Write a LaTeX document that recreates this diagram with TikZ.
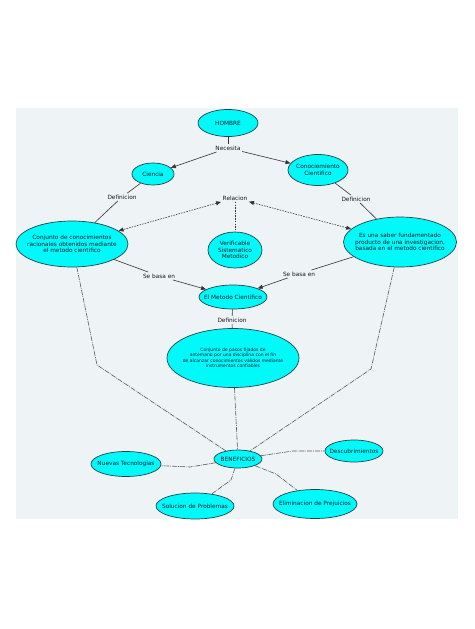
\documentclass[tikz,border=0pt]{standalone}
\usepackage{fontspec}
\setmainfont{DejaVu Sans}
\usetikzlibrary{arrows.meta,shapes.geometric}
\definecolor{cmapfill}{RGB}{0,250,250}
\definecolor{cmapline}{RGB}{30,70,80}
\definecolor{cmaptext}{RGB}{5,30,50}
\definecolor{cmapbg}{RGB}{238,243,245}

\begin{document}
\begin{tikzpicture}[x=1pt,y=-1pt,
  concept/.style={ellipse,draw=cmapline,fill=cmapfill,line width=0.7pt,align=center,inner xsep=-10pt,inner ysep=-6pt,text=cmaptext,font=\fontsize{5.8}{6.6}\selectfont},
  lab/.style={font=\fontsize{5.8}{6.6}\selectfont,inner sep=1.5pt,text=black!90},
  link/.style={draw=black!80,line width=0.6pt},
  ar/.style={link,-{Triangle[length=5pt,width=4pt]}},
  rel/.style={link,dash pattern=on 1.5pt off 1.2pt,{Triangle[length=5pt,width=4pt]}-{Triangle[length=5pt,width=4pt]}},
  ben/.style={draw=black!65,line width=0.6pt,dash pattern=on 5pt off 1pt on 0.8pt off 1pt}]

\useasboundingbox (0,0) rectangle (474,629);
\fill[cmapbg] (16,108) rectangle (458,519);

% concepts
\node[concept,minimum width=60pt,minimum height=27pt] (hombre) at (228,123) {HOMBRE};
\node[concept,minimum width=42pt,minimum height=22pt] (ciencia) at (153,174) {Ciencia};
\node[concept,minimum width=60pt,minimum height=31pt] (conoc) at (318,170) {Conociemiento\\Cientifico};
\node[concept,minimum width=112pt,minimum height=46pt] (conjL) at (72,244)
  {Conjunto de conocimientos\\racionales obtenidos mediante\\el metodo cientifico};
\node[concept,minimum width=54pt,minimum height=36pt] (verif) at (235,250)
  {Verificable\\Sistematico\\Metodico};
\node[concept,minimum width=113pt,minimum height=50pt] (saber) at (400,242)
  {Es una saber fundamentado\\producto de una investigacion,\\basada en el metodo cientifico};
\node[concept,minimum width=68pt,minimum height=24pt] (metodo) at (233,297) {El Metodo Cientifico};
\node[concept,minimum width=132pt,minimum height=59pt,font=\fontsize{4.5}{5.4}\selectfont] (pasos) at (233,358)
  {Conjunto de pasos fijados de\\antemano por una disciplina con el fin\\de alcanzar conocimientos válidos mediante\\instrumentos confiables};
\node[concept,minimum width=48pt,minimum height=18pt] (benef) at (238,459) {BENEFICIOS};
\node[concept,minimum width=70pt,minimum height=25pt] (nuevas) at (126,464) {Nuevas Tecnologias};
\node[concept,minimum width=58pt,minimum height=22pt] (descub) at (354,451) {Descubrimientos};
\node[concept,minimum width=78pt,minimum height=26pt] (solucion) at (195,506) {Solucion de Problemas};
\node[concept,minimum width=84pt,minimum height=29pt] (elimin) at (315,504) {Eliminacion de Prejuicios};

% linking phrases
\node[lab] (necesita) at (228,148) {Necesita};
\node[lab] (defL) at (122,197) {Definicion};
\node[lab] (defR) at (356,199) {Definicion};
\node[lab] (relacion) at (235,198) {Relacion};
\node[lab] (basaL) at (159,276) {Se basa en};
\node[lab] (basaR) at (299,274) {Se basa en};
\node[lab] (defM) at (232,320) {Definicion};

\coordinate (bendL) at (97,365);
\coordinate (bendR) at (371,369);
\coordinate (kNue) at (190,467);
\coordinate (kSol) at (231,480);
\coordinate (kDes) at (293,451);
\coordinate (kEli) at (276,474);

% links
\draw[link] (hombre) -- (necesita);
\draw[ar] (necesita) -- (ciencia);
\draw[ar] (necesita) -- (conoc);
\draw[link] (ciencia) -- (defL);
\draw[link] (defL) -- (conjL);
\draw[link] (conoc) -- (defR);
\draw[link] (defR) -- (saber);
\draw[rel] (relacion) -- (conjL);
\draw[rel] (relacion) -- (saber);
\draw[link,dash pattern=on 1.5pt off 1.2pt] (relacion) -- (verif);
\draw[link] (conjL) -- (basaL);
\draw[ar] (basaL) -- (metodo);
\draw[link] (saber) -- (basaR);
\draw[ar] (basaR) -- (metodo);
\draw[link] (metodo) -- (defM);
\draw[link] (defM) -- (pasos);

% beneficios
\draw[ben] (conjL) -- (bendL) -- (benef);
\draw[ben] (saber) -- (bendR) -- (benef);
\draw[ben] (pasos) -- (benef);
\draw[ben] (benef) -- (kNue) -- (nuevas);
\draw[ben] (benef) -- (kSol) -- (solucion);
\draw[ben] (benef) -- (kDes) -- (descub);
\draw[ben] (benef) -- (kEli) -- (elimin);
\end{tikzpicture}
\end{document}
